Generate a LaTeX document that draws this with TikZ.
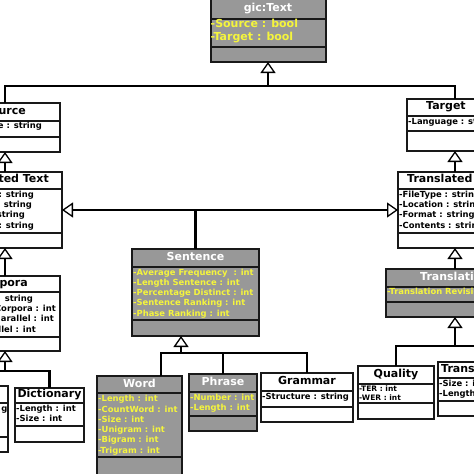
\documentclass[tikz,border=0pt]{standalone}
\usepackage{fontspec}
\setmainfont{DejaVu Sans}
\usetikzlibrary{arrows.meta}
\definecolor{boxgray}{RGB}{152,152,152}
\definecolor{attryel}{RGB}{245,245,60}
\definecolor{edgec}{RGB}{25,25,25}
\newcommand\umlbox[8]{%
  \pgfmathsetmacro\ubw{#5-#3}\pgfmathsetmacro\ubh{#6-#4}%
  \pgfmathsetmacro\ucx{(#3+#5)/2}\pgfmathsetmacro\ucy{(#4+#6)/2}%
  \node[#2, minimum width=\ubw pt, minimum height=\ubh pt] (#1) at (\ucx,\ucy) {};
  \draw[sepline] (#3,#7) -- (#5,#7);
  \draw[sepline] (#3,#8) -- (#5,#8);
}
\begin{document}
\begin{tikzpicture}[x=1pt,y=-1pt,
  ubox/.style={draw=edgec, line width=1.5pt, inner sep=0pt, outer sep=0pt},
  graybox/.style={ubox, fill=boxgray},
  whitebox/.style={ubox, fill=white},
  sepline/.style={draw=edgec, line width=1.5pt},
  ttl/.style={font=\fontsize{11}{13}\selectfont\bfseries, inner sep=0pt, anchor=mid},
  wttl/.style={ttl, text=white},
  attr/.style={font=\fontsize{8.4}{10}\selectfont\bfseries, inner sep=0pt, anchor=mid west},
  attre/.style={attr, anchor=mid east},
  sattr/.style={attr, font=\fontsize{7.5}{9}\selectfont\bfseries},
  yattr/.style={attr, text=attryel},
  bigyattr/.style={yattr, font=\fontsize{11}{13}\selectfont\bfseries},
  conn/.style={line width=2.2pt, draw=black},
  thinconn/.style={line width=1.1pt, draw=black},
  inh/.style={conn, -{Triangle[open, length=11pt, width=15pt, line width=1.3pt]}}
]
\useasboundingbox (0,0) rectangle (474,474);
\fill[white] (0,0) rectangle (474,474);
\begin{scope}
\clip (0,0) rectangle (474,474);

% ---------- boxes ----------
\umlbox{gic}{graybox}{211}{-3}{326}{62}{19}{47}
\umlbox{source}{whitebox}{-50}{103}{60}{152}{121}{137}
\umlbox{target}{whitebox}{407}{99}{503}{151}{116}{131}
\umlbox{transL}{whitebox}{-52}{172}{62}{248}{189}{233}
\umlbox{transR}{whitebox}{398}{172}{512}{248}{189}{233}
\umlbox{sentence}{graybox}{132}{249}{259}{336}{267}{320}
\umlbox{corpora}{whitebox}{-50}{276}{60}{351}{292}{337}
\umlbox{trev}{graybox}{386}{269}{524}{317}{287}{302}
\umlbox{leftb}{whitebox}{-88}{386}{8}{452}{403}{437}
\umlbox{dict}{whitebox}{15}{388}{84}{442}{403}{426}
\umlbox{word}{graybox}{97}{376}{182}{490}{393}{457}
\umlbox{phrase}{graybox}{189}{374}{257}{431}{392}{416}
\umlbox{grammar}{whitebox}{261}{373}{353}{422}{391}{407}
\umlbox{quality}{whitebox}{358}{366}{434}{419}{384}{403}
\umlbox{trans2}{whitebox}{438}{362}{542}{416}{378}{401}

% ---------- texts ----------
\node[wttl] (gic-t) at (268,9) {gic:Text};
\node[bigyattr] (gic-a1) at (210.5,25) {-Source : bool};
\node[bigyattr] (gic-a2) at (210.5,38) {-Target : bool};

\node[ttl, anchor=mid east] (source-t) at (26,112) {Source};
\node[attre] (source-a1) at (42,126) {-Language : string};

\node[ttl, anchor=mid west] (target-t) at (426,107) {Target};
\node[attr] (target-a1) at (408,122) {-Language : string};

\node[ttl, anchor=mid east] (transL-t) at (49,180) {ted Text};
\node[attre] (transL-a1) at (34,195) {: string};
\node[attre] (transL-a2) at (32,205) {string};
\node[attre] (transL-a3) at (25,215) {string};
\node[attre] (transL-a4) at (34,226) {: string};

\node[ttl, anchor=mid west] (transR-t) at (407,180) {Translated Text};
\node[attr] (transR-a1) at (399,195) {-FileType : string};
\node[attr] (transR-a2) at (399,205) {-Location : string};
\node[attr] (transR-a3) at (399,215) {-Format : string};
\node[attr] (transR-a4) at (399,226) {-Contents : string};

\node[wttl] (sentence-t) at (195.5,258) {Sentence};
\node[yattr] (sentence-a1) at (133,273) {-Average Frequency~ : int};
\node[yattr] (sentence-a2) at (133,283) {-Length Sentence : int};
\node[yattr] (sentence-a3) at (133,293) {-Percentage Distinct : int};
\node[yattr] (sentence-a4) at (133,303) {-Sentence Ranking : int};
\node[yattr] (sentence-a5) at (133,313.5) {-Phase Ranking : int};

\node[ttl, anchor=mid east] (corpora-t) at (28,284) {pora};
\node[attre] (corpora-a1) at (33,299) {: string};
\node[attre] (corpora-a2) at (56,309) {Corpora : int};
\node[attre] (corpora-a3) at (54,319) {arallel : int};
\node[attre] (corpora-a4) at (36,330) {llel : int};

\node[wttl, anchor=mid west] (trev-t) at (420,278) {Translation Revision};
\node[yattr] (trev-a1) at (387,292) {-Translation Revision};

\node[attre] (leftb-a1) at (7.5,409) {g};

\node[ttl] (dict-t) at (49.5,395) {Dictionary};
\node[attr] (dict-a1) at (16,409) {-Length : int};
\node[attr] (dict-a2) at (16,419) {-Size : int};

\node[wttl] (word-t) at (139.5,384.5) {Word};
\node[yattr] (word-a1) at (98,399) {-Length : int};
\node[yattr] (word-a2) at (98,409.5) {-CountWord : int};
\node[yattr] (word-a3) at (98,420) {-Size : int};
\node[yattr] (word-a4) at (98,430) {-Unigram : int};
\node[yattr] (word-a5) at (98,440) {-Bigram : int};
\node[yattr] (word-a6) at (98,450.5) {-Trigram : int};

\node[wttl] (phrase-t) at (223,383) {Phrase};
\node[yattr] (phrase-a1) at (190,398) {-Number : int};
\node[yattr] (phrase-a2) at (190,408) {-Length : int};

\node[ttl] (grammar-t) at (307,382) {Grammar};
\node[attr] (grammar-a1) at (262,396.5) {-Structure : string};

\node[ttl] (quality-t) at (396,375) {Quality};
\node[sattr] (quality-a1) at (359,389) {-TER : int};
\node[sattr] (quality-a2) at (359,397.5) {-WER : int};

\node[ttl, anchor=mid west] (trans2-t) at (441,370) {Translation};
\node[attr] (trans2-a1) at (439,384) {-Size : int};
\node[attr] (trans2-a2) at (439,393.5) {-Length : int};

% ---------- connectors ----------
\coordinate (jg) at (268,86);
\draw[inh] (jg) -- (jg |- gic.south);
\draw[conn] (source.north) |- (jg) -| (target.north);

\draw[inh] (transL.north) -- (source.south);
\draw[inh] (transR.north) -- (target.south);

\coordinate (js0) at (sentence.north |- transL.east);
\draw[conn] (sentence.north) -- (js0);
\draw[inh] (js0) -- (transL.east);
\draw[inh] (js0) -- (transR.west);

\draw[inh] (corpora.north) -- (transL.south);
\coordinate (jc) at (5,371);
\draw[inh] (jc) -- (corpora.south);
\draw[conn] (leftb.north) |- (jc) -| (dict.north);

\coordinate (js) at (181,353);
\draw[inh] (js) -- (js |- sentence.south);
\draw[conn] ([xshift=21.5pt]word.north) |- (js) -| (grammar.north);
\draw[thinconn] (phrase.north) -- (phrase.north |- js);

\draw[inh] (trev.north) -- (transR.south);
\coordinate (jt) at (455,346);
\draw[inh] (jt) -- (trev.south);
\draw[conn] (quality.north) |- (jt) -| (trans2.north);
\end{scope}
\end{tikzpicture}
\end{document}
